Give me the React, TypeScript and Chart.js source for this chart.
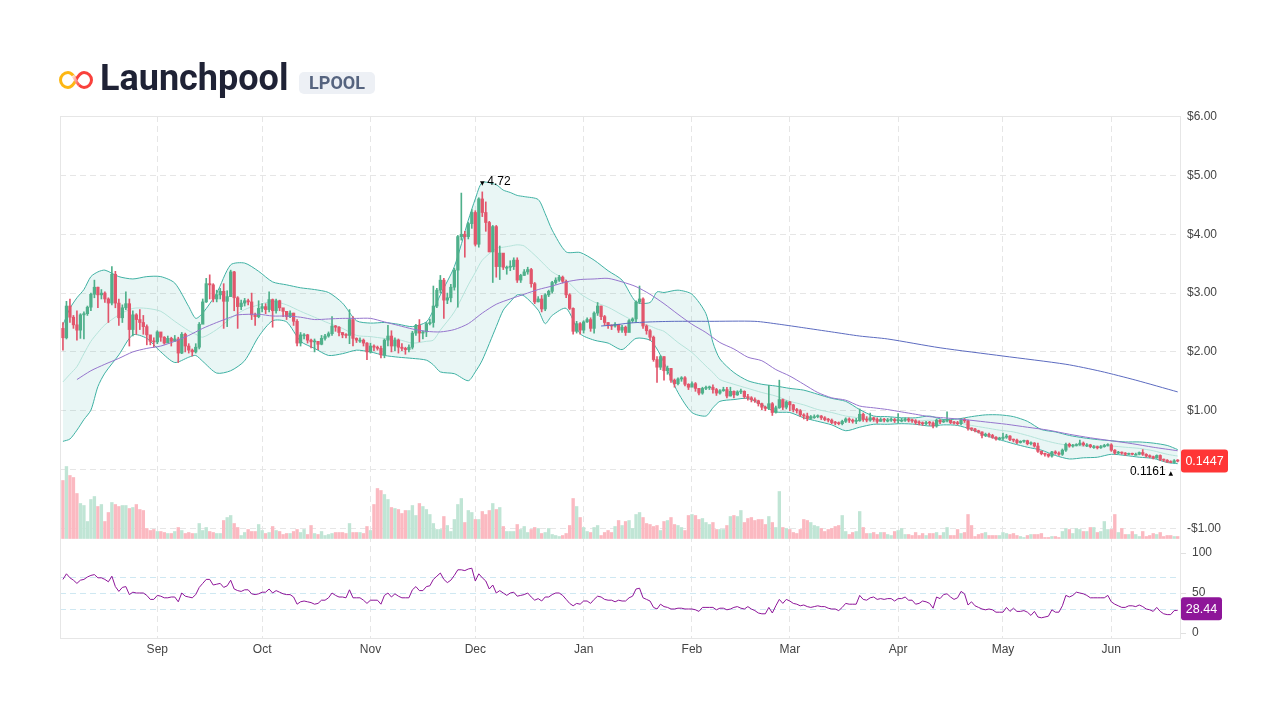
import React, { useEffect, useRef } from 'react';
import { Chart, registerables } from 'chart.js';

Chart.register(...registerables);

// day 0 is 5 Aug, one candle a day
const monthDays = [27, 57, 88, 118, 149, 180, 208, 239, 269, 300];
const monthNames = ['Sep', 'Oct', 'Nov', 'Dec', 'Jan', 'Feb', 'Mar', 'Apr', 'May', 'Jun'];
const priceTicks = [6, 5, 4, 3, 2, 1, 0, -1];
const rsiTicks = [100, 70, 50, 30, 0];

const firstOpen = 2.4;
const closes = [
  2.24, 2.78, 2.59, 2.46, 2.37, 2.63, 2.65, 2.76, 2.98, 3.10,
  2.97, 3.00, 2.90, 2.83, 3.32, 2.83, 2.58, 2.75, 2.82, 2.38,
  2.63, 2.55, 2.50, 2.43, 2.29, 2.18, 2.17, 2.34, 2.25, 2.15,
  2.23, 2.18, 2.22, 1.98, 2.30, 2.10, 2.03, 2.00, 2.08, 2.47,
  2.85, 3.16, 3.14, 2.90, 2.97, 3.03, 2.86, 2.94, 3.36, 2.92,
  2.77, 2.83, 2.87, 2.85, 2.63, 2.60, 2.74, 2.77, 2.72, 2.89,
  2.70, 2.87, 2.75, 2.69, 2.60, 2.66, 2.52, 2.15, 2.29, 2.29,
  2.20, 2.17, 2.18, 2.13, 2.23, 2.27, 2.31, 2.44, 2.42, 2.33,
  2.29, 2.28, 2.55, 2.23, 2.20, 2.20, 2.15, 2.00, 2.10, 2.08,
  2.06, 1.95, 2.20, 2.27, 2.10, 2.20, 2.08, 2.06, 2.04, 2.08,
  2.32, 2.45, 2.32, 2.34, 2.48, 2.50, 2.78, 3.05, 3.22, 2.88,
  2.92, 3.10, 3.39, 3.96, 4.00, 3.96, 4.18, 4.37, 3.83, 4.60,
  4.37, 4.20, 3.70, 4.13, 3.45, 3.68, 3.44, 3.44, 3.45, 3.56,
  3.22, 3.30, 3.36, 3.40, 3.16, 2.85, 2.90, 2.73, 2.97, 3.03,
  3.18, 3.22, 3.27, 3.20, 2.97, 2.74, 2.35, 2.48, 2.37, 2.51,
  2.55, 2.40, 2.66, 2.78, 2.60, 2.50, 2.45, 2.44, 2.47, 2.37,
  2.42, 2.33, 2.53, 2.56, 2.85, 2.90, 2.44, 2.36, 2.25, 1.87,
  1.74, 1.92, 1.68, 1.72, 1.52, 1.46, 1.54, 1.56, 1.45, 1.40,
  1.46, 1.38, 1.30, 1.38, 1.39, 1.40, 1.36, 1.30, 1.34, 1.36,
  1.25, 1.33, 1.27, 1.32, 1.33, 1.24, 1.22, 1.19, 1.17, 1.12,
  1.06, 1.04, 1.12, 0.97, 1.05, 1.19, 1.06, 1.15, 1.10, 1.02,
  1.00, 0.93, 0.91, 0.87, 0.90, 0.90, 0.91, 0.88, 0.85, 0.84,
  0.80, 0.79, 0.78, 0.82, 0.86, 0.84, 0.82, 0.83, 0.94, 0.85,
  0.84, 0.88, 0.85, 0.82, 0.85, 0.84, 0.84, 0.85, 0.83, 0.84,
  0.84, 0.85, 0.84, 0.83, 0.80, 0.79, 0.78, 0.80, 0.79, 0.74,
  0.84, 0.81, 0.83, 0.84, 0.80, 0.79, 0.78, 0.85, 0.83, 0.70,
  0.69, 0.66, 0.64, 0.58, 0.60, 0.58, 0.55, 0.52, 0.53, 0.55,
  0.57, 0.51, 0.50, 0.46, 0.48, 0.49, 0.44, 0.45, 0.40, 0.31,
  0.27, 0.26, 0.23, 0.30, 0.28, 0.26, 0.33, 0.43, 0.40, 0.41,
  0.42, 0.45, 0.42, 0.42, 0.39, 0.39, 0.37, 0.39, 0.41, 0.42,
  0.33, 0.28, 0.29, 0.28, 0.26, 0.27, 0.26, 0.26, 0.29, 0.26,
  0.23, 0.22, 0.20, 0.24, 0.17, 0.16, 0.13, 0.12, 0.15, 0.1447,
];
const highs = [
  2.50, 2.86, 2.90, 2.62, 2.70, 2.65, 2.68, 2.78, 3.00, 3.22,
  3.10, 3.06, 3.02, 2.92, 3.45, 3.37, 2.90, 2.80, 3.02, 2.90,
  2.70, 2.65, 2.72, 2.62, 2.46, 2.22, 2.24, 2.36, 2.33, 2.26,
  2.27, 2.25, 2.28, 2.25, 2.33, 2.32, 2.14, 2.05, 2.14, 2.50,
  2.90, 3.25, 3.31, 3.16, 3.05, 3.08, 3.16, 3.04, 3.39, 3.37,
  2.94, 2.88, 2.91, 2.90, 3.00, 2.66, 2.87, 2.82, 2.82, 3.02,
  2.90, 2.90, 2.88, 2.74, 2.66, 2.70, 2.66, 2.55, 2.33, 2.31,
  2.30, 2.22, 2.22, 2.16, 2.28, 2.30, 2.34, 2.60, 2.45, 2.43,
  2.33, 2.31, 2.72, 2.60, 2.24, 2.24, 2.22, 2.16, 2.15, 2.12,
  2.10, 2.10, 2.22, 2.45, 2.36, 2.24, 2.22, 2.14, 2.08, 2.12,
  2.35, 2.47, 2.55, 2.36, 2.50, 2.56, 3.12, 3.08, 3.30, 3.25,
  3.00, 3.15, 3.42, 3.98, 4.70, 4.05, 4.20, 4.42, 4.40, 4.62,
  4.72, 4.55, 4.22, 4.15, 4.15, 3.80, 3.52, 3.46, 3.55, 3.60,
  3.60, 3.32, 3.40, 3.44, 3.42, 3.18, 2.94, 2.96, 2.99, 3.05,
  3.20, 3.26, 3.30, 3.29, 3.22, 2.99, 2.75, 2.52, 2.50, 2.53,
  2.58, 2.58, 2.68, 2.84, 2.78, 2.62, 2.50, 2.46, 2.50, 2.47,
  2.45, 2.44, 2.55, 2.58, 2.87, 3.12, 2.92, 2.46, 2.38, 2.27,
  1.92, 1.94, 1.92, 1.76, 1.72, 1.54, 1.56, 1.58, 1.58, 1.46,
  1.49, 1.48, 1.38, 1.40, 1.42, 1.42, 1.44, 1.38, 1.36, 1.40,
  1.40, 1.40, 1.34, 1.34, 1.37, 1.34, 1.28, 1.24, 1.22, 1.18,
  1.13, 1.08, 1.43, 1.14, 1.08, 1.52, 1.20, 1.17, 1.16, 1.11,
  1.04, 1.02, 0.95, 0.96, 0.92, 0.93, 0.93, 0.92, 0.90, 0.87,
  0.86, 0.82, 0.81, 0.84, 0.88, 0.88, 0.86, 0.87, 1.03, 0.96,
  0.90, 0.96, 0.89, 0.88, 0.88, 0.87, 0.87, 0.88, 0.87, 0.95,
  0.87, 0.88, 0.88, 0.86, 0.85, 0.83, 0.81, 0.82, 0.82, 0.81,
  0.86, 0.85, 0.85, 0.98, 0.84, 0.82, 0.82, 0.87, 0.87, 0.84,
  0.71, 0.70, 0.67, 0.64, 0.62, 0.62, 0.60, 0.56, 0.55, 0.62,
  0.60, 0.58, 0.52, 0.52, 0.49, 0.50, 0.50, 0.47, 0.46, 0.45,
  0.32, 0.28, 0.27, 0.31, 0.32, 0.30, 0.35, 0.45, 0.45, 0.43,
  0.44, 0.50, 0.47, 0.44, 0.43, 0.41, 0.40, 0.41, 0.43, 0.44,
  0.44, 0.34, 0.31, 0.30, 0.29, 0.28, 0.28, 0.28, 0.30, 0.34,
  0.27, 0.25, 0.23, 0.25, 0.25, 0.18, 0.17, 0.15, 0.17, 0.17,
];
const lows = [
  2.03, 2.22, 2.50, 2.40, 2.20, 2.23, 2.22, 2.62, 2.70, 2.92,
  2.75, 2.90, 2.84, 2.50, 2.80, 2.75, 2.45, 2.50, 2.72, 2.10,
  2.27, 2.30, 2.38, 2.30, 2.12, 2.12, 2.08, 2.14, 2.18, 2.13,
  2.20, 2.10, 2.18, 1.82, 1.97, 2.00, 1.98, 1.93, 1.98, 2.05,
  2.50, 2.84, 2.90, 2.85, 2.85, 2.90, 2.40, 2.43, 2.94, 2.70,
  2.40, 2.72, 2.78, 2.80, 2.55, 2.45, 2.58, 2.68, 2.65, 2.68,
  2.42, 2.66, 2.70, 2.60, 2.55, 2.58, 2.45, 2.10, 2.10, 2.22,
  2.15, 2.07, 2.00, 2.04, 2.12, 2.20, 2.25, 2.28, 2.35, 2.27,
  2.24, 2.24, 2.14, 2.10, 2.16, 2.16, 2.10, 1.87, 1.98, 2.02,
  2.03, 1.90, 1.90, 2.10, 2.00, 2.02, 1.98, 2.02, 1.96, 2.00,
  2.05, 2.28, 2.17, 2.22, 2.26, 2.46, 2.42, 2.75, 3.00, 2.57,
  2.82, 2.85, 3.05, 2.76, 3.90, 3.61, 3.92, 4.10, 3.80, 3.78,
  4.30, 4.05, 3.70, 3.18, 3.27, 3.23, 3.40, 3.32, 3.38, 3.40,
  3.18, 3.18, 3.30, 3.32, 3.10, 2.82, 2.85, 2.68, 2.70, 2.94,
  3.00, 3.15, 3.20, 3.17, 2.92, 2.72, 2.30, 2.32, 2.30, 2.32,
  2.50, 2.35, 2.32, 2.62, 2.55, 2.45, 2.40, 2.38, 2.42, 2.33,
  2.33, 2.28, 2.40, 2.50, 2.50, 2.82, 2.40, 2.30, 2.20, 1.84,
  1.48, 1.70, 1.52, 1.62, 1.48, 1.40, 1.44, 1.50, 1.42, 1.36,
  1.42, 1.33, 1.27, 1.28, 1.36, 1.36, 1.30, 1.26, 1.28, 1.33,
  1.22, 1.25, 1.22, 1.26, 1.29, 1.21, 1.18, 1.15, 1.14, 1.08,
  1.02, 1.00, 1.02, 0.92, 0.96, 1.04, 1.02, 1.03, 1.00, 0.98,
  0.96, 0.90, 0.86, 0.83, 0.85, 0.87, 0.88, 0.85, 0.83, 0.81,
  0.78, 0.76, 0.76, 0.76, 0.80, 0.80, 0.79, 0.78, 0.82, 0.82,
  0.81, 0.82, 0.82, 0.79, 0.82, 0.81, 0.81, 0.82, 0.80, 0.79,
  0.81, 0.82, 0.81, 0.80, 0.77, 0.76, 0.75, 0.76, 0.75, 0.71,
  0.72, 0.78, 0.80, 0.81, 0.78, 0.77, 0.76, 0.76, 0.80, 0.67,
  0.66, 0.64, 0.62, 0.54, 0.56, 0.55, 0.53, 0.50, 0.50, 0.51,
  0.53, 0.49, 0.47, 0.44, 0.45, 0.46, 0.42, 0.42, 0.38, 0.29,
  0.25, 0.23, 0.21, 0.21, 0.26, 0.24, 0.24, 0.31, 0.38, 0.38,
  0.40, 0.41, 0.40, 0.39, 0.37, 0.36, 0.35, 0.36, 0.38, 0.40,
  0.31, 0.26, 0.27, 0.26, 0.24, 0.25, 0.25, 0.25, 0.25, 0.24,
  0.21, 0.20, 0.18, 0.19, 0.15, 0.14, 0.12, 0.1161, 0.12, 0.13,
];
const volumes = [
  58, 72, 63, 61, 45, 35, 33, 17, 39, 42,
  32, 34, 17, 26, 36, 34, 32, 33, 33, 30,
  31, 34, 29, 28, 10, 8, 9, 7, 7, 6,
  5, 5, 7, 11, 8, 5, 6, 5, 5, 15,
  8, 11, 7, 6, 5, 5, 18, 21, 23, 15,
  11, 3, 6, 9, 7, 7, 14, 8, 5, 6,
  12, 8, 7, 4, 5, 5, 7, 9, 6, 9,
  4, 13, 5, 4, 7, 3, 4, 5, 6, 6,
  6, 5, 15, 6, 6, 6, 5, 12, 8, 34,
  50, 48, 44, 39, 31, 30, 29, 25, 28, 28,
  33, 23, 35, 32, 29, 24, 15, 9, 9, 22,
  13, 7, 19, 34, 40, 16, 28, 26, 19, 19,
  27, 24, 28, 35, 29, 31, 12, 7, 7, 7,
  14, 9, 12, 6, 9, 11, 10, 5, 6, 10,
  4, 3, 2, 3, 5, 13, 40, 32, 21, 11,
  7, 6, 11, 13, 3, 6, 8, 6, 12, 18,
  13, 17, 18, 10, 24, 26, 21, 15, 14, 12,
  13, 8, 17, 18, 21, 14, 13, 11, 8, 23,
  24, 23, 19, 20, 16, 14, 16, 9, 9, 9,
  13, 22, 23, 22, 28, 16, 20, 21, 18, 19,
  19, 14, 22, 16, 11, 47, 11, 10, 9, 6,
  5, 9, 19, 18, 16, 13, 12, 10, 7, 9,
  10, 12, 13, 23, 7, 4, 6, 7, 27, 11,
  5, 5, 6, 4, 6, 6, 4, 3, 7, 8,
  10, 4, 4, 3, 6, 3, 5, 3, 5, 5,
  6, 3, 6, 11, 3, 3, 9, 5, 6, 24,
  13, 2, 4, 5, 6, 3, 3, 3, 3, 6,
  5, 4, 5, 3, 2, 1, 3, 4, 4, 4,
  5, 1, 1, 2, 2, 1, 7, 10, 9, 5,
  10, 9, 7, 7, 11, 11, 6, 7, 17, 9,
  9, 24, 6, 10, 4, 4, 7, 4, 2, 7,
  2, 3, 5, 4, 6, 2, 3, 3, 2, 2,
];
const rsiValues = [
  67, 74, 69, 66, 62, 66, 67, 70, 72, 73,
  69, 69, 67, 64, 71, 58, 52, 57, 58, 48,
  51, 50, 50, 50, 47, 42, 42, 47, 46, 44,
  44, 45, 45, 39, 50, 46, 45, 44, 48, 57,
  62, 67, 67, 60, 61, 62, 57, 59, 66, 55,
  53, 52, 54, 54, 49, 48, 49, 51, 51, 55,
  50, 53, 51, 49, 48, 48, 45, 36, 39, 40,
  39, 38, 36, 37, 41, 41, 44, 50, 47, 45,
  45, 44, 54, 44, 44, 44, 41, 37, 41, 41,
  41, 36, 47, 50, 45, 49, 46, 44, 44, 44,
  54, 58, 53, 53, 58, 59, 67, 71, 75, 67,
  63, 66, 72, 79, 79, 78, 80, 81, 65, 74,
  69, 65, 55, 60, 50, 53, 50, 47, 50, 51,
  46, 47, 48, 50, 45, 41, 43, 40, 45, 45,
  48, 50, 50, 47, 42, 37, 34, 37, 36, 40,
  40, 37, 42, 46, 45, 42, 41, 41, 39, 41,
  40, 40, 44, 46, 55, 56, 44, 42, 40, 32,
  30, 36, 33, 32, 30, 30, 31, 31, 30, 30,
  30, 29, 27, 32, 32, 32, 32, 29, 31, 31,
  29, 30, 32, 33, 31, 30, 33, 30, 28, 25,
  24, 24, 32, 25, 34, 42, 37, 42, 40, 37,
  36, 34, 35, 33, 32, 33, 34, 33, 33, 31,
  30, 30, 28, 32, 37, 36, 36, 36, 47, 42,
  41, 44, 45, 42, 43, 42, 43, 43, 40, 43,
  43, 45, 41, 41, 36, 37, 40, 39, 37, 31,
  45, 43, 48, 49, 45, 42, 44, 52, 49, 35,
  39, 34, 32, 30, 29, 30, 29, 26, 26, 26,
  32, 27, 31, 27, 27, 28, 26, 22, 27, 20,
  19, 20, 21, 29, 26, 26, 34, 47, 45, 47,
  51, 50, 49, 47, 44, 44, 44, 44, 44, 47,
  39, 36, 34, 32, 32, 34, 34, 33, 35, 33,
  30, 29, 27, 32, 27, 24, 23, 23, 28, 28.44,
];

const bandDays = [
  0, 2, 4, 6, 8, 10, 12, 16, 20, 24, 28, 32, 36, 38, 40, 44, 48, 52, 56, 60,
  64, 68, 72, 76, 80, 84, 88, 92, 96, 100, 104, 106, 108, 112, 116, 118, 120, 124, 126, 128,
  130, 132, 136, 138, 140, 144, 148, 152, 156, 160, 164, 168, 170, 172, 176, 180, 184, 186, 188, 192,
  196, 200, 204, 208, 212, 216, 220, 224, 228, 232, 236, 240, 244, 248, 252, 256, 260, 264, 268, 272,
  276, 280, 284, 288, 292, 296, 300, 304, 308, 312, 316, 319,
];
const bandUpper = [
  2.46, 2.74, 2.92, 3.06, 3.28, 3.36, 3.39, 3.28, 3.24, 3.28, 3.28, 3.17, 2.77, 2.57, 2.66, 3.00, 3.48, 3.51, 3.37, 3.19,
  3.14, 3.09, 3.06, 3.01, 2.83, 2.53, 2.49, 2.50, 2.47, 2.43, 2.51, 2.71, 2.97, 3.45, 4.24, 4.60, 4.88, 4.84, 4.75, 4.71,
  4.66, 4.64, 4.59, 4.35, 4.07, 3.70, 3.69, 3.56, 3.38, 3.22, 2.85, 2.84, 3.02, 3.01, 3.05, 2.98, 2.65, 2.16, 1.88, 1.65,
  1.51, 1.45, 1.42, 1.38, 1.35, 1.28, 1.21, 1.16, 1.02, 0.91, 0.90, 0.88, 0.88, 0.91, 0.85, 0.86, 0.90, 0.93, 0.93, 0.90,
  0.82, 0.68, 0.64, 0.58, 0.54, 0.51, 0.49, 0.47, 0.47, 0.45, 0.41, 0.34,
];
const bandMiddle = [
  1.49, 1.62, 1.75, 1.97, 2.18, 2.33, 2.46, 2.63, 2.74, 2.74, 2.69, 2.52, 2.36, 2.30, 2.25, 2.38, 2.57, 2.72, 2.80, 2.86,
  2.80, 2.69, 2.59, 2.49, 2.40, 2.28, 2.26, 2.23, 2.21, 2.15, 2.18, 2.20, 2.37, 2.68, 3.14, 3.35, 3.56, 3.76, 3.78, 3.80,
  3.82, 3.80, 3.59, 3.47, 3.36, 3.22, 2.99, 2.85, 2.76, 2.63, 2.51, 2.44, 2.39, 2.35, 2.16, 1.99, 1.76, 1.65, 1.53, 1.45,
  1.38, 1.31, 1.25, 1.16, 1.10, 1.02, 0.97, 0.91, 0.88, 0.85, 0.85, 0.84, 0.82, 0.84, 0.82, 0.80, 0.75, 0.71, 0.67, 0.64,
  0.58, 0.51, 0.45, 0.41, 0.40, 0.40, 0.40, 0.38, 0.36, 0.32, 0.26, 0.23,
];
const bandLower = [
  0.48, 0.52, 0.67, 0.85, 1.01, 1.41, 1.64, 1.95, 2.29, 2.23, 2.00, 1.82, 1.91, 1.94, 1.84, 1.64, 1.68, 1.85, 2.26, 2.53,
  2.51, 2.18, 2.06, 1.94, 1.97, 2.03, 2.00, 1.94, 1.91, 1.89, 1.86, 1.78, 1.66, 1.63, 1.51, 1.66, 1.86, 2.43, 2.71, 2.85,
  2.97, 2.95, 2.71, 2.48, 2.62, 2.74, 2.31, 2.20, 2.15, 2.04, 2.23, 2.20, 2.05, 1.82, 1.31, 0.97, 0.91, 1.05, 1.16, 1.19,
  1.21, 1.10, 0.98, 0.97, 0.88, 0.82, 0.76, 0.66, 0.72, 0.77, 0.77, 0.78, 0.77, 0.74, 0.76, 0.75, 0.68, 0.58, 0.51, 0.44,
  0.38, 0.33, 0.24, 0.18, 0.20, 0.21, 0.26, 0.24, 0.21, 0.19, 0.12, 0.10,
];

const maShortDays = [
  4, 8, 12, 16, 20, 24, 28, 32, 36, 40, 44, 48, 50, 56, 60, 64, 68, 72, 76, 80,
  84, 88, 92, 96, 100, 104, 108, 112, 116, 120, 124, 128, 132, 136, 140, 144, 148, 152, 156, 160,
  164, 168, 172, 176, 180, 184, 188, 192, 196, 200, 204, 208, 212, 216, 220, 224, 228, 232, 236, 240,
  244, 248, 252, 258, 264, 270, 276, 282, 288, 294, 300, 306, 312, 319,
];
const maShort = [
  1.53, 1.68, 1.79, 1.89, 2.00, 2.06, 2.10, 2.18, 2.28, 2.40, 2.50, 2.59, 2.63, 2.64, 2.61, 2.61, 2.59, 2.55, 2.56, 2.57,
  2.57, 2.57, 2.51, 2.45, 2.39, 2.35, 2.34, 2.38, 2.48, 2.66, 2.81, 2.90, 2.98, 3.06, 3.12, 3.19, 3.23, 3.24, 3.25, 3.19,
  3.11, 2.98, 2.82, 2.64, 2.47, 2.33, 2.16, 2.05, 1.91, 1.85, 1.70, 1.59, 1.45, 1.31, 1.22, 1.18, 1.08, 1.05, 1.02, 0.98,
  0.94, 0.90, 0.88, 0.85, 0.81, 0.77, 0.72, 0.67, 0.60, 0.54, 0.49, 0.44, 0.38, 0.32,
];
const maLongDays = [154, 158, 162, 168, 175, 185, 198, 205, 212, 220, 228, 236, 251, 269, 287, 297, 307, 319];
const maLong = [2.44, 2.46, 2.49, 2.51, 2.52, 2.52, 2.52, 2.47, 2.41, 2.34, 2.27, 2.22, 2.07, 1.93, 1.79, 1.67, 1.52, 1.32];

const UP = '#4fb08b';
const DOWN = '#e2566c';
const UP_VOL = '#c0e5d5';
const DOWN_VOL = '#fbb9c1';

const opens = closes.map((_, i) => (i === 0 ? firstOpen : closes[i - 1]));
const candleColors = closes.map((c, i) => (c >= opens[i] ? UP : DOWN));
const volumeColors = closes.map((c, i) => (c >= opens[i] ? UP_VOL : DOWN_VOL));
const lastPrice = closes[closes.length - 1];
const lastRsi = rsiValues[rsiValues.length - 1];
const maxHigh = Math.max(...highs);
const minLow = Math.min(...lows);

const toPoints = (days: number[], values: number[]) => days.map((d, i) => ({ x: d, y: values[i] }));

const axisFont = { family: '"Liberation Sans", Arial, sans-serif', size: 12 };
const gridDash = [6, 4];

const formatPrice = (v: number) => (v < 0 ? '-$' : '$') + Math.abs(v).toFixed(2);

const overlayPlugin = {
  id: 'overlay',
  beforeDatasetsDraw(chart: any) {
    const { ctx, chartArea: a } = chart;
    ctx.save();
    ctx.strokeStyle = '#e6e6e6';
    ctx.lineWidth = 1;
    ctx.strokeRect(Math.round(a.left) + 0.5, Math.round(a.top) + 0.5, a.width, a.height);
    ctx.restore();
  },
  afterDraw(chart: any) {
    const { ctx, scales } = chart;
    const font = '12px "Liberation Sans", Arial, sans-serif';
    const badge = (text: string, y: number, w: number, color: string) => {
      ctx.fillStyle = color;
      ctx.beginPath();
      ctx.roundRect(1181, y - 11.5, w, 23, 3);
      ctx.fill();
      ctx.fillStyle = '#fff';
      ctx.font = '12.5px "Liberation Sans", Arial, sans-serif';
      ctx.textAlign = 'center';
      ctx.textBaseline = 'middle';
      ctx.fillText(text, 1181 + w / 2, y + 0.5);
    };
    ctx.save();
    badge(lastPrice.toFixed(4), scales.price.getPixelForValue(lastPrice), 47, '#ff3636');
    badge(lastRsi.toFixed(2), scales.rsi.getPixelForValue(lastRsi) - 1.5, 41, '#8e1599');

    // highest and lowest marks
    const maxX = scales.x.getPixelForValue(highs.indexOf(maxHigh));
    const maxY = scales.price.getPixelForValue(maxHigh) - 10;
    const minX = scales.x.getPixelForValue(lows.indexOf(minLow));
    const minY = scales.price.getPixelForValue(minLow) + 9;
    ctx.fillStyle = '#000';
    ctx.textBaseline = 'middle';
    ctx.font = font;
    ctx.textAlign = 'left';
    ctx.fillText(String(maxHigh.toFixed(2)), maxX + 5, maxY);
    ctx.textAlign = 'right';
    ctx.fillText(String(minLow), minX - 5, minY);
    ctx.font = '6px "DejaVu Sans", sans-serif';
    ctx.textAlign = 'center';
    ctx.fillText('▼', maxX, maxY + 1.5);
    ctx.fillText('▲', minX, minY + 1.5);
    ctx.restore();
  },
};

const LaunchpoolChart = () => {
  const canvasRef = useRef<HTMLCanvasElement>(null);

  useEffect(() => {
    if (!canvasRef.current) return;
    const chart = new Chart(canvasRef.current, {
      type: 'bar',
      data: {
        datasets: [
          {
            type: 'bar',
            yAxisID: 'price',
            grouped: false,
            order: 2,
            barThickness: 2.6,
            minBarLength: 1,
            backgroundColor: candleColors,
            data: closes.map((c, i) => ({ x: i, y: [opens[i], c] })),
          },
          {
            type: 'bar',
            yAxisID: 'price',
            grouped: false,
            order: 3,
            barThickness: 1,
            backgroundColor: candleColors,
            data: closes.map((_, i) => ({ x: i, y: [lows[i], highs[i]] })),
          },
          {
            type: 'bar',
            yAxisID: 'volume',
            grouped: false,
            order: 6,
            barThickness: 2.7,
            backgroundColor: volumeColors,
            data: volumes.map((v, i) => ({ x: i, y: v })),
          },
          {
            type: 'line',
            yAxisID: 'price',
            order: 5,
            borderColor: '#3fb1a3',
            borderWidth: 1,
            pointRadius: 0,
            tension: 0.25,
            backgroundColor: 'rgba(38, 166, 154, 0.1)',
            fill: 4,
            data: toPoints(bandDays, bandUpper),
          },
          {
            type: 'line',
            yAxisID: 'price',
            order: 5,
            borderColor: '#3fb1a3',
            borderWidth: 1,
            pointRadius: 0,
            tension: 0.25,
            data: toPoints(bandDays, bandLower),
          },
          {
            type: 'line',
            yAxisID: 'price',
            order: 4,
            borderColor: '#b5e3da',
            borderWidth: 1,
            pointRadius: 0,
            tension: 0.25,
            data: toPoints(bandDays, bandMiddle),
          },
          {
            type: 'line',
            yAxisID: 'price',
            order: 1,
            borderColor: '#9575cd',
            borderWidth: 1,
            pointRadius: 0,
            tension: 0.25,
            data: toPoints(maShortDays, maShort),
          },
          {
            type: 'line',
            yAxisID: 'price',
            order: 1,
            borderColor: '#5c6bc0',
            borderWidth: 1,
            pointRadius: 0,
            tension: 0.25,
            data: toPoints(maLongDays, maLong),
          },
          {
            type: 'line',
            yAxisID: 'rsi',
            order: 1,
            borderColor: '#8e1599',
            borderWidth: 1,
            pointRadius: 0,
            data: rsiValues.map((v, i) => ({ x: i, y: v })),
          },
        ],
      } as any,
      options: {
        responsive: false,
        animation: false,
        devicePixelRatio: 1,
        layout: { padding: { top: 116, left: 60, right: 0, bottom: 0 } },
        plugins: { legend: { display: false }, tooltip: { enabled: false }, title: { display: false } },
        scales: {
          x: {
            type: 'linear',
            offset: false,
            min: -0.844,
            max: 319.66,
            border: { display: false, dash: gridDash },
            grid: { color: '#e6e6e6', drawTicks: false, offset: false },
            ticks: {
              autoSkip: false,
              maxRotation: 0,
              padding: 4,
              color: '#444',
              font: axisFont,
              callback: (v: any) => monthNames[monthDays.indexOf(v)] ?? '',
            },
            afterBuildTicks: (s: any) => {
              s.ticks = monthDays.map((value) => ({ value }));
            },
            afterFit: (s: any) => {
              s.height = 82;
            },
          },
          price: {
            type: 'linear',
            position: 'right',
            stack: 'panes',
            stackWeight: 422,
            min: -1.163,
            max: 6.01,
            border: { display: false, dash: gridDash },
            grid: { color: '#e6e6e6', drawTicks: false },
            ticks: {
              padding: 7,
              color: '#444',
              font: axisFont,
              autoSkip: false,
              // the $0.00 label sits under the price badge in the reference
              callback: (v: any) => (v === 0 ? '' : formatPrice(v)),
            },
            afterBuildTicks: (s: any) => {
              s.ticks = priceTicks.map((value) => ({ value }));
            },
            afterFit: (s: any) => {
              s.width = 100;
            },
          },
          rsi: {
            type: 'linear',
            position: 'right',
            stack: 'panes',
            stackWeight: 100,
            min: -6.25,
            max: 118.75,
            border: { display: false, dash: gridDash },
            grid: {
              color: (c: any) => (c.tick && (c.tick.value === 100 || c.tick.value === 0) ? 'transparent' : '#cfe8f2'),
              tickColor: (c: any) => (c.tick && c.tick.value % 50 === 0 ? '#e0e0e0' : 'transparent'),
              tickLength: 6,
            },
            ticks: {
              padding: 6,
              color: '#444',
              font: axisFont,
              autoSkip: false,
              callback: (v: any) => (v % 50 === 0 ? String(v) : ''),
            },
            afterBuildTicks: (s: any) => {
              s.ticks = rsiTicks.map((value) => ({ value }));
            },
            afterFit: (s: any) => {
              s.width = 100;
            },
          },
          volume: {
            type: 'linear',
            position: 'right',
            display: false,
            min: -99.5,
            max: 422.5,
          },
        },
      } as any,
      plugins: [overlayPlugin],
    });
    return () => {
      chart.destroy();
    };
  }, []);

  return (
    <canvas
      ref={canvasRef}
      width={1280}
      height={720}
      style={{ position: 'absolute', left: 0, top: 0, width: 1280, height: 720 }}
    />
  );
};

const Logo = () => (
  <svg width={34} height={20} viewBox="0 0 34 20" style={{ position: 'absolute', left: 59, top: 70 }}>
    <defs>
      <linearGradient id="cross" x1="0" y1="0" x2="1" y2="1">
        <stop offset="0" stopColor="#ffe9dc" />
        <stop offset="1" stopColor="#ff4b3e" />
      </linearGradient>
    </defs>
    <path
      d="M17 10 C14.5 5 12.5 2.5 9 2.5 A7.5 7.5 0 0 0 9 17.5 C12.5 17.5 14.5 15 17 10"
      fill="none"
      stroke="#fdb714"
      strokeWidth={3}
    />
    <path
      d="M17 10 C19.5 5 21.5 2.5 25 2.5 A7.5 7.5 0 0 1 25 17.5 C23 17.5 21.5 16.5 20 15"
      fill="none"
      stroke="#f9413c"
      strokeWidth={3}
    />
    <path d="M14 5.5 C15.5 8 17.5 12.5 20 15" fill="none" stroke="url(#cross)" strokeWidth={3} />
  </svg>
);

const App = () => (
  <div style={{ position: 'absolute', left: 0, top: 0, width: 1280, height: 720, background: '#fff' }}>
    <LaunchpoolChart />
    <Logo />
    <div
      style={{
        position: 'absolute',
        left: 100,
        top: 57,
        fontFamily: 'Roboto, sans-serif',
        fontWeight: 700,
        fontSize: 36,
        lineHeight: '42px',
        color: '#1f2235',
      }}
    >
      Launchpool
    </div>
    <div
      style={{
        position: 'absolute',
        left: 299,
        top: 72,
        width: 76,
        height: 22,
        borderRadius: 5,
        background: '#edf0f5',
        textAlign: 'center',
        fontFamily: 'Roboto, sans-serif',
        fontWeight: 700,
        fontSize: 18,
        lineHeight: '22px',
        color: '#56647f',
      }}
    >
      LPOOL
    </div>
  </div>
);

export default App;
